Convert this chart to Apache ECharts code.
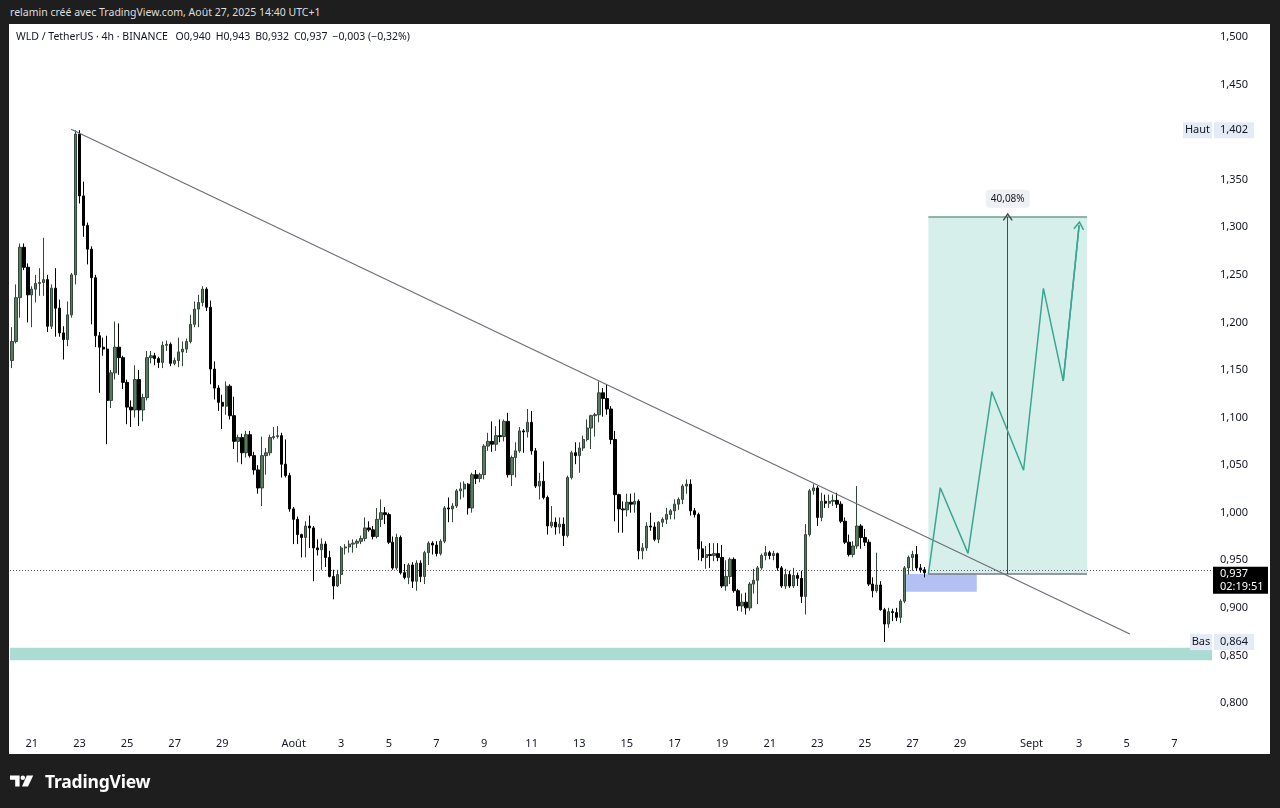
<!DOCTYPE html>
<html><head><meta charset="utf-8">
<script src="https://cdn.jsdelivr.net/npm/echarts@6/dist/echarts.min.js"></script>
<style>
html,body{margin:0;padding:0;background:#1e1e1e;width:1280px;height:808px;overflow:hidden;font-family:'Noto Sans','Open Sans',sans-serif;}
#panel{position:absolute;left:9px;top:24px;width:1261px;height:730px;background:#fff;}
#hdr{position:absolute;left:10px;top:5px;color:#dedede;font-size:10.5px;white-space:nowrap;}
#chart{position:absolute;left:0;top:0;width:1280px;height:808px;}
#legend{position:absolute;left:16px;top:29px;color:#131722;font-size:10.5px;white-space:nowrap;z-index:5;}
#legend span{margin-left:5px;}
#logo{position:absolute;left:10px;top:769px;display:flex;align-items:center;color:#fff;font-weight:700;font-size:17.5px;letter-spacing:-0.2px;}
#logo svg{margin-right:11px;}
</style></head>
<body>
<div id="panel"></div>
<div id="hdr">relamin créé avec TradingView.com, Août 27, 2025 14:40 UTC+1</div>
<div id="chart"></div>
<div id="legend">WLD / TetherUS · 4h · BINANCE <span>O0,940</span><span>H0,943</span><span>B0,932</span><span>C0,937</span><span>−0,003 (−0,32%)</span></div>
<div id="logo"><svg width="24" height="14" viewBox="0 0 30 16"><path d="M0 1 H12 V15 H6.5 V6.5 H0 Z" fill="#fff"/><circle cx="16" cy="3.8" r="2.8" fill="#fff"/><path d="M21 1 H29 L22.5 15 H15 Z" fill="#fff"/></svg>TradingView</div>
<script>
// ---- Candle data (4h bars) ----
const closes = [
1.180,1.226,1.279,1.258,1.229,1.235,1.241,1.242,1.245,1.196,
1.236,1.215,1.189,1.182,1.208,1.250,1.398,1.333,1.302,1.277,
1.247,1.186,1.174,1.172,1.118,1.147,1.174,1.163,1.137,1.111,
1.108,1.140,1.108,1.121,1.163,1.165,1.162,1.158,1.176,1.177,
1.157,1.160,1.169,1.172,1.180,1.198,1.214,1.221,1.235,1.216,
1.151,1.131,1.116,1.112,1.133,1.102,1.075,1.079,1.063,1.082,
1.060,1.045,1.026,1.060,1.063,1.079,1.080,1.081,1.051,1.039,
1.004,0.993,0.977,0.974,0.986,0.984,0.963,0.961,0.967,0.953,
0.933,0.923,0.935,0.963,0.964,0.967,0.968,0.970,0.973,0.984,
0.982,0.975,0.993,1.000,0.998,0.969,0.942,0.974,0.937,0.932,
0.945,0.928,0.947,0.933,0.958,0.968,0.966,0.957,0.970,1.005,
1.004,1.007,1.023,1.025,1.030,1.005,1.040,1.036,1.040,1.070,
1.075,1.072,1.081,1.080,1.096,1.040,1.058,1.065,1.086,1.085,
1.095,1.065,1.028,1.033,1.016,0.986,0.990,0.985,0.988,0.976,
1.037,1.063,1.060,1.068,1.077,1.089,1.102,1.103,1.126,1.120,
1.109,1.077,1.019,1.004,1.003,1.011,1.009,1.012,0.960,0.963,
0.986,0.985,0.972,0.990,0.993,0.998,1.002,1.009,1.014,1.028,
1.030,1.002,0.998,0.962,0.953,0.956,0.955,0.957,0.953,0.923,
0.933,0.951,0.918,0.902,0.906,0.900,0.925,0.929,0.942,0.955,
0.958,0.955,0.957,0.942,0.923,0.935,0.923,0.934,0.931,0.912,
0.977,1.023,1.026,0.995,1.012,1.010,1.012,1.013,1.009,0.991,
0.969,0.956,0.965,0.986,0.974,0.969,0.925,0.918,0.924,0.898,
0.883,0.896,0.895,0.890,0.907,0.942,0.953,0.956,0.942,0.940,
0.937];
const highs = [
1.195,1.240,1.283,1.283,1.262,1.238,1.250,1.257,1.289,1.250,
1.240,1.257,1.224,1.196,1.222,1.252,1.402,1.402,1.348,1.305,
1.280,1.250,1.190,1.184,1.186,1.150,1.201,1.199,1.165,1.140,
1.118,1.155,1.150,1.125,1.170,1.170,1.168,1.164,1.180,1.181,
1.179,1.163,1.184,1.180,1.183,1.208,1.222,1.229,1.238,1.237,
1.223,1.159,1.134,1.124,1.138,1.135,1.122,1.082,1.083,1.086,
1.086,1.064,1.050,1.080,1.068,1.082,1.090,1.091,1.084,1.077,
1.042,1.006,0.996,0.978,0.991,0.997,0.986,0.972,0.973,0.970,
0.960,0.940,0.940,0.965,0.967,0.971,0.972,0.972,0.976,0.995,
0.991,0.986,1.005,1.014,1.006,1.000,0.975,0.978,0.976,0.946,
0.947,0.948,0.950,0.950,0.960,0.970,0.970,0.970,0.972,1.007,
1.016,1.010,1.025,1.032,1.033,1.031,1.042,1.045,1.042,1.072,
1.084,1.096,1.091,1.098,1.098,1.105,1.060,1.074,1.090,1.088,
1.109,1.107,1.068,1.042,1.054,1.018,1.007,0.995,0.995,0.995,
1.039,1.065,1.074,1.074,1.081,1.098,1.103,1.105,1.138,1.131,
1.135,1.112,1.086,1.020,1.012,1.020,1.020,1.021,1.014,0.968,
0.990,1.000,0.990,0.991,0.995,1.005,1.004,1.014,1.016,1.030,
1.035,1.035,1.005,1.000,0.970,0.965,0.968,0.968,0.968,0.966,
0.950,0.953,0.953,0.920,0.915,0.916,0.927,0.941,0.944,0.957,
0.965,0.960,0.960,0.958,0.944,0.941,0.939,0.942,0.937,0.939,
0.988,1.025,1.030,1.028,1.021,1.019,1.019,1.019,1.021,1.012,
0.995,0.977,0.970,1.028,0.988,0.983,0.972,0.932,0.958,0.928,
0.900,0.900,0.899,0.900,0.909,0.944,0.955,0.960,0.965,0.946,
0.943];
const lows = [
1.152,1.178,1.205,1.255,1.200,1.195,1.221,1.228,1.228,1.190,
1.193,1.185,1.185,1.161,1.175,1.205,1.240,1.325,1.290,1.261,
1.198,1.174,1.126,1.165,1.072,1.110,1.140,1.145,1.130,1.093,
1.090,1.100,1.091,1.096,1.118,1.157,1.155,1.152,1.152,1.170,
1.154,1.155,1.153,1.154,1.168,1.178,1.195,1.195,1.217,1.212,
1.135,1.119,1.107,1.088,1.103,1.098,1.067,1.053,1.051,1.058,
1.058,1.040,1.020,1.007,1.040,1.060,1.077,1.078,1.037,1.037,
1.001,0.967,0.967,0.953,0.953,0.963,0.928,0.955,0.940,0.943,
0.932,0.909,0.922,0.925,0.956,0.958,0.958,0.963,0.967,0.970,
0.980,0.972,0.973,0.985,0.988,0.967,0.940,0.940,0.935,0.930,
0.925,0.921,0.918,0.927,0.925,0.945,0.956,0.954,0.955,0.968,
0.990,0.990,1.005,1.014,1.016,0.998,1.000,1.030,1.032,1.035,
1.065,1.064,1.065,1.074,1.075,1.037,1.028,1.037,1.063,1.063,
1.079,1.061,1.026,1.014,1.014,0.977,0.984,0.977,0.978,0.965,
0.974,1.035,1.051,1.042,1.065,1.075,1.067,1.080,1.095,1.101,
1.103,1.072,0.991,0.979,0.979,0.996,1.000,1.000,0.951,0.951,
0.960,0.981,0.970,0.968,0.985,0.988,0.993,0.993,1.003,1.009,
1.020,0.997,0.995,0.950,0.949,0.941,0.942,0.949,0.949,0.921,
0.918,0.925,0.916,0.897,0.896,0.893,0.897,0.915,0.904,0.940,
0.950,0.951,0.950,0.939,0.921,0.920,0.921,0.921,0.923,0.905,
0.893,0.975,1.019,0.986,0.991,1.005,1.005,1.007,1.005,0.989,
0.967,0.954,0.953,0.962,0.962,0.965,0.923,0.911,0.916,0.897,
0.864,0.879,0.886,0.886,0.884,0.905,0.935,0.939,0.939,0.937,
0.932];
const firstOpen = 1.160;
const opens = [firstOpen].concat(closes.slice(0, -1));

// ---- Time axis (4h bars, UTC+1 display), extended into the future ----
const startTime = Date.UTC(2025, 6, 20, 5);
const barCount = 303;
const monthNames = {7: 'Juil', 8: 'Août', 9: 'Sept'};

// ---- Price axis ticks ----
const priceTicks = [0.80, 0.85, 0.90, 0.95, 1.00, 1.05, 1.10, 1.15, 1.20, 1.25, 1.30, 1.35, 1.45, 1.50];
const priceMin = 0.77055, priceMax = 1.51265;

// ---- Drawing annotations (bar index, price) ----
const trendBars = [14.9, 281.8];
const trendPrices = [1.403, 0.8725];
const entryPrice = 0.9355, targetPrice = 1.311, stopPrice = 0.917;
const tradeStartBar = 231, tradeEndBar = 271, arrowBar = 251;
const stopStartBar = 225.4, stopEndBar = 243.2;
const projBars = [231, 234, 241, 247, 255, 260, 265, 269];
const projPrices = [0.9355, 1.0263, 0.9573, 1.1272, 1.0446, 1.2359, 1.1384, 1.3021];
const bandLow = 0.845, bandHigh = 0.858;
const lastPrice = 0.937;
const gainLabel = '40,08%';
const countdown = '02:19:51';

const pad = n => String(n).padStart(2, '0');
const categories = [];
for (let i = 0; i < barCount; i++) {
  const d = new Date(startTime + i * 4 * 3600 * 1000);
  categories.push(d.getUTCFullYear() + '-' + pad(d.getUTCMonth() + 1) + '-' + pad(d.getUTCDate()) + ' ' + pad(d.getUTCHours()) + ':00');
}
function labelFor(v) {
  const [date, time] = v.split(' ');
  const [Y, M, D] = date.split('-').map(Number);
  const h = Number(time.slice(0, 2));
  if (h !== 1) return '';
  if (D === 1) return monthNames[M];
  if (D % 2 === 1 && D !== 31) return String(D);
  return '';
}
const fmt = v => v.toFixed(3).replace('.', ',');
const candles = closes.map((c, i) => [opens[i], c, lows[i], highs[i]]);
const highMark = Math.max(...highs);
const lowMark = Math.min(...lows);
const chevron = 'path://M5,0 L10,8 L8.8,8.9 L5,2.6 L1.2,8.9 L0,8 Z';
const FONT = 'Noto Sans';

const chart = echarts.init(document.getElementById('chart'), null, {renderer: 'canvas'});
const option = {
  animation: false,
  backgroundColor: 'transparent',
  textStyle: {fontFamily: FONT},
  grid: {left: 10, right: 68, top: 25, bottom: 77, containLabel: false},
  xAxis: [
    {type: 'category', data: categories, boundaryGap: true,
     axisLine: {show: false}, axisTick: {show: false}, splitLine: {show: false},
     axisLabel: {interval: (idx, v) => labelFor(v) !== '', formatter: v => labelFor(v),
                 color: '#131722', fontSize: 11, margin: 7, fontFamily: FONT}},
    {type: 'value', min: -0.5, max: barCount - 0.5, show: false}
  ],
  yAxis: {type: 'value', position: 'right', min: priceMin, max: priceMax,
    splitLine: {show: false}, axisLine: {show: false}, axisTick: {show: false},
    axisLabel: {customValues: priceTicks, formatter: v => fmt(v), color: '#131722', fontSize: 11, margin: 8, fontFamily: FONT}},
  series: [
    { // zones
      type: 'line', xAxisIndex: 1, yAxisIndex: 0, data: [], z: 1, silent: true,
      markArea: {silent: true, data: [
        [{coord: [-0.5, bandHigh], itemStyle: {color: '#abdcd4'}}, {coord: [barCount - 0.5, bandLow]}],
        [{coord: [tradeStartBar, targetPrice], itemStyle: {color: 'rgba(8,153,129,0.16)'}}, {coord: [tradeEndBar, entryPrice]}],
        [{coord: [stopStartBar, entryPrice], itemStyle: {color: '#b2c0f3'}}, {coord: [stopEndBar, stopPrice]}]
      ]},
      markLine: {silent: true, symbol: 'none', label: {show: false}, data: [
        {yAxis: lastPrice, lineStyle: {color: '#5d606b', type: [1, 2], width: 1}}
      ]}
    },
    {
      type: 'candlestick', xAxisIndex: 0, yAxisIndex: 0, data: candles, z: 5, barWidth: '72%',
      itemStyle: {color: '#5a7a5f', borderColor: '#33463a', color0: '#000000', borderColor0: '#000000', borderWidth: 1}
    },
    { // trend line
      type: 'line', xAxisIndex: 1, yAxisIndex: 0, z: 6, symbol: 'none', silent: true,
      data: trendBars.map((b, i) => [b, trendPrices[i]]),
      lineStyle: {color: '#6b6e78', width: 1.2}
    },
    { // projection path & position tool lines
      type: 'line', xAxisIndex: 1, yAxisIndex: 0, z: 7, symbol: 'none', silent: true,
      data: projBars.map((b, i) => [b, projPrices[i]]),
      lineStyle: {color: '#3aa593', width: 1.5},
      markLine: {silent: true, label: {show: false}, symbol: 'none', data: [
        [{coord: [tradeStartBar, targetPrice], lineStyle: {color: '#6f9e96', width: 1.5, type: 'solid'}}, {coord: [tradeEndBar, targetPrice]}],
        [{coord: [tradeStartBar, entryPrice], lineStyle: {color: '#787b86', width: 1.5, type: 'solid'}}, {coord: [tradeEndBar, entryPrice]}],
        [{coord: [arrowBar, entryPrice], symbol: 'none', lineStyle: {color: '#4a4a4a', width: 1, type: 'solid'}},
         {coord: [arrowBar, targetPrice], symbol: chevron, symbolSize: [10, 8], lineStyle: {color: '#4a4a4a', width: 1, type: 'solid'}}],
        [{coord: [projBars[6], projPrices[6]], symbol: 'none', lineStyle: {color: '#3aa593', width: 1.5, type: 'solid'}},
         {coord: [projBars[7], projPrices[7]], symbol: chevron, symbolSize: [11, 9], lineStyle: {color: '#3aa593', width: 1.5, type: 'solid'}}]
      ]}
    }
  ]
};
chart.setOption(option);

const py = v => chart.convertToPixel({yAxisIndex: 0}, v);
const px = b => chart.convertToPixel({xAxisIndex: 1}, b);
const yH = py(highMark), yL = py(lowMark), yC = py(lastPrice);
const xA = px(arrowBar), yT = py(targetPrice);
const tagFill = '#e4ebf7';
const txt = (x, y, s, fill, align, size, weight) => ({type: 'text', x: x, y: y, z: 20,
  style: {text: s, fill: fill, font: (weight || 'normal') + ' ' + (size || 11) + 'px "' + FONT + '"', align: align, verticalAlign: 'middle'}});
chart.setOption({graphic: [
  {type: 'rect', z: 19, shape: {x: 1183, y: yH - 8, width: 29, height: 16}, style: {fill: tagFill}},
  txt(1197.5, yH, 'Haut', '#131722', 'center'),
  {type: 'rect', z: 19, shape: {x: 1214, y: yH - 8, width: 40, height: 16}, style: {fill: tagFill}},
  txt(1220, yH, fmt(highMark), '#131722', 'left'),
  {type: 'rect', z: 19, shape: {x: 1190, y: yL - 8, width: 22, height: 16}, style: {fill: tagFill}},
  txt(1201, yL, 'Bas', '#131722', 'center'),
  {type: 'rect', z: 19, shape: {x: 1214, y: yL - 8, width: 40, height: 16}, style: {fill: tagFill}},
  txt(1220, yL, fmt(lowMark), '#131722', 'left'),
  {type: 'rect', z: 19, shape: {x: 1213, y: yC - 6, width: 55, height: 27}, style: {fill: '#000'}},
  txt(1220, yC + 1, fmt(lastPrice), '#ffffff', 'left'),
  txt(1220, yC + 14, countdown, '#ffffff', 'left'),
  {type: 'rect', z: 19, shape: {x: xA - 22, y: yT - 27, width: 44, height: 18, r: 3}, style: {fill: '#eef0f3'}},
  txt(xA, yT - 18, gainLabel, '#131722', 'center', 10)
]});
</script>
</body></html>
